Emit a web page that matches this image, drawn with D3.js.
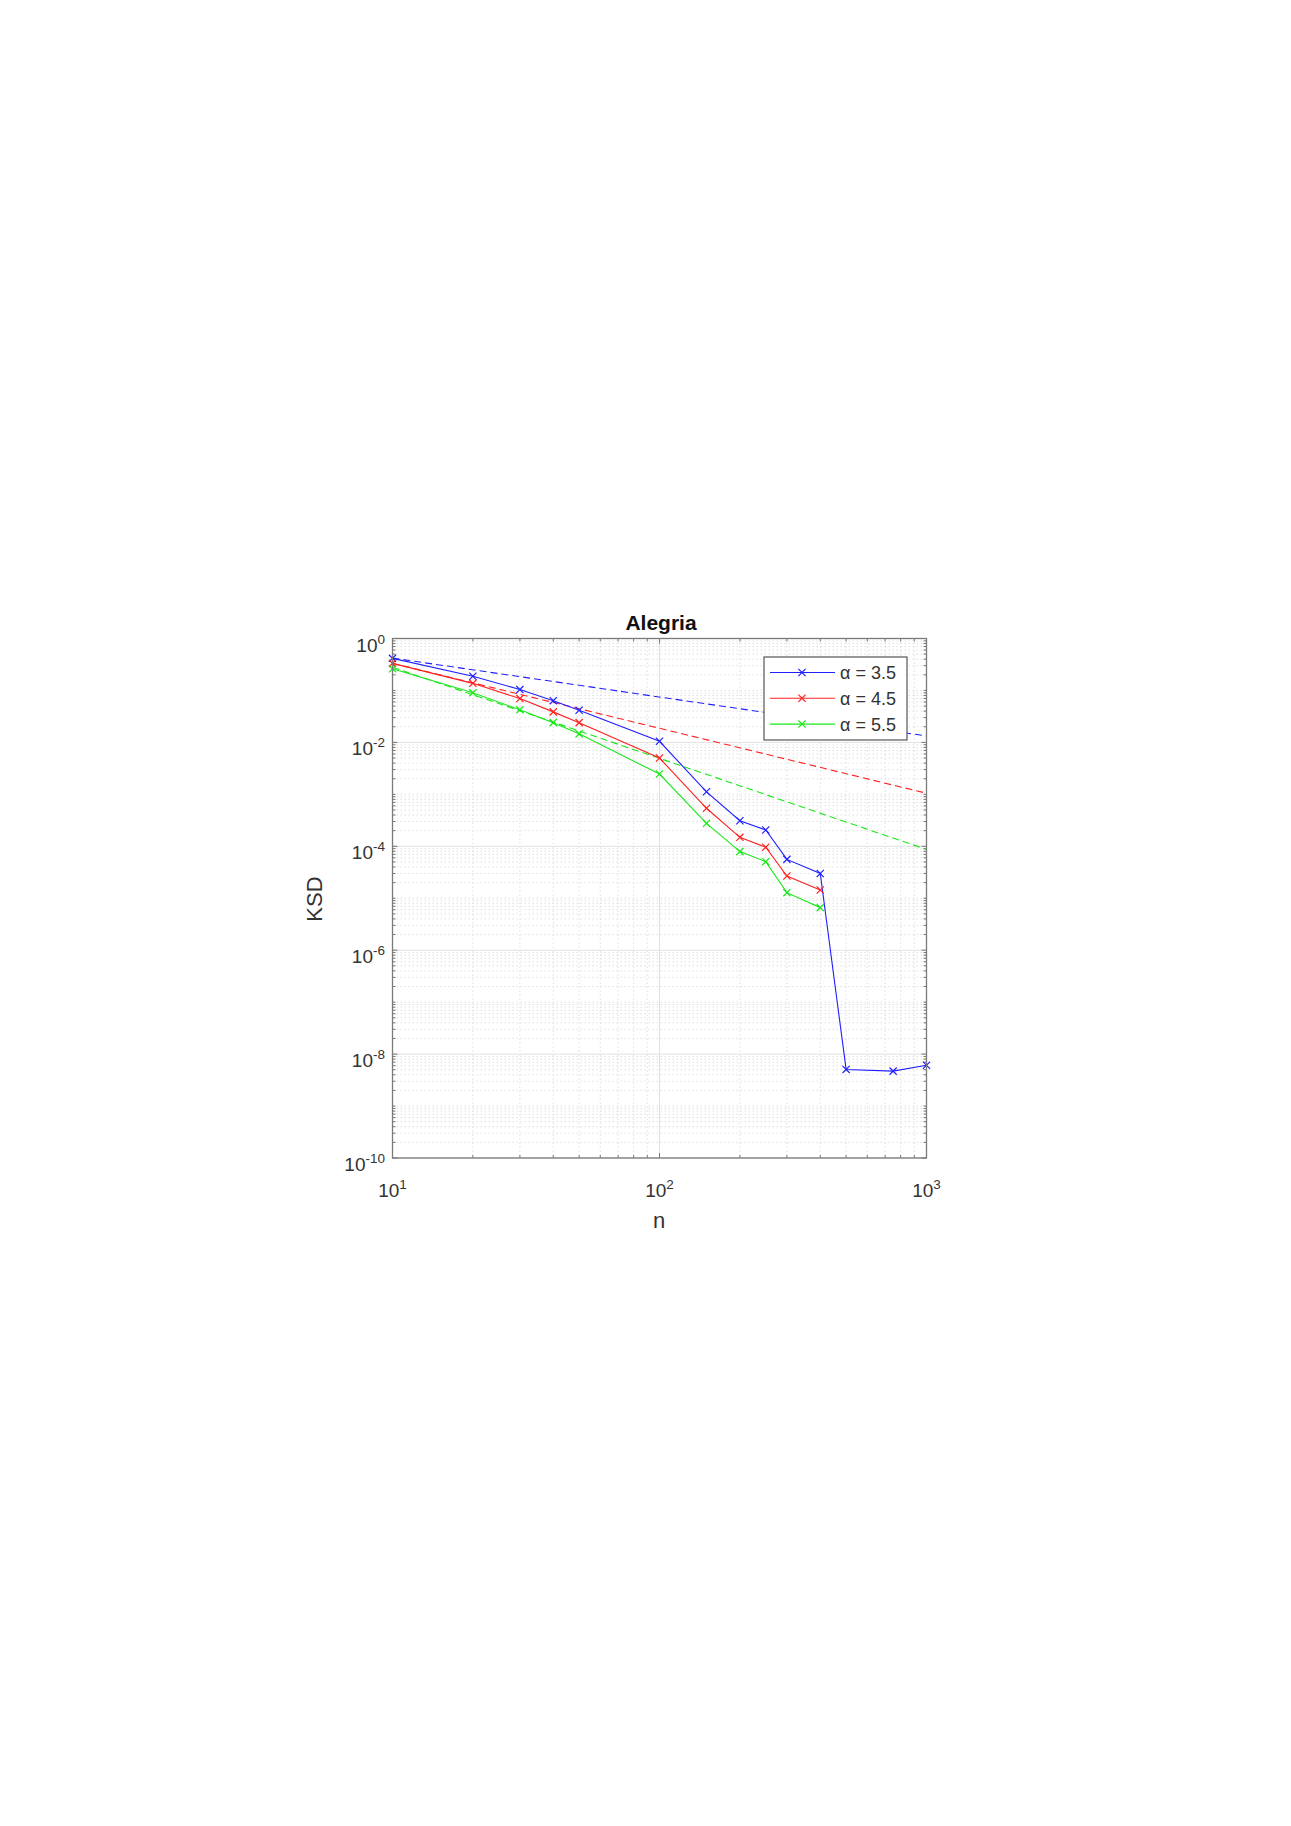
<!DOCTYPE html>
<html>
<head>
<meta charset="utf-8">
<script src="https://cdn.jsdelivr.net/npm/d3@7"></script>
<style>
  body { margin: 0; background: #fff; }
  text { font-family: "Liberation Sans", Arial, sans-serif; fill: #333; }
</style>
</head>
<body>
<svg width="1291" height="1826"></svg>
<script>
// values
const nValues = [10, 20, 30, 40, 50, 100, 150, 200, 250, 300, 400, 500, 750, 1000];
const ksdA35 = [0.415, 0.188, 0.104, 0.0635, 0.0416, 0.0105, 1.12e-3, 3.1e-4, 2.06e-4, 5.6e-5, 3.0e-5, 5.07e-9, 4.7e-9, 6.1e-9];
const ksdA45 = [0.332, 0.137, 0.0697, 0.0387, 0.024, 5.0e-3, 5.4e-4, 1.49e-4, 9.6e-5, 2.68e-5, 1.44e-5];
const ksdA55 = [0.261, 0.09, 0.0424, 0.024, 0.0146, 2.46e-3, 2.77e-4, 7.9e-5, 5.06e-5, 1.28e-5, 6.6e-6];
// dashed reference rates, end points only
const refN = [10, 1000];
const refA35 = [0.42, 0.0133];
const refA45 = [0.333, 1.05e-3];
const refA55 = [0.279, 8.7e-5];
const legendLabels = ["\u03b1 = 3.5", "\u03b1 = 4.5", "\u03b1 = 5.5"];
const xTickExp = [1, 2, 3];
const yTickExp = [0, -2, -4, -6, -8, -10];

const svg = d3.select('svg');
const g = svg.append('g');

const plotL = 392.5, plotR = 926.5, plotT = 638.5, plotB = 1158;
const x = d3.scaleLog().domain([10, 1000]).range([plotL, plotR]);
const y = d3.scaleLog().domain([1e-10, 1]).range([plotB, plotT]);

const xMajor = xTickExp.map(e => Math.pow(10, e));
const yMajor = yTickExp.map(e => Math.pow(10, e));
const isMajor = (v, list) => list.some(m => Math.abs(Math.log10(v) - Math.log10(m)) < 1e-6);
const xMinor = x.ticks().filter(v => !isMajor(v, xMajor));
const yMinor = y.ticks(20).filter(v => !isMajor(v, yMajor));

// minor grid
g.selectAll('line.xminor').data(xMinor).enter().append('line')
  .attr('x1', d => x(d)).attr('x2', d => x(d)).attr('y1', plotT).attr('y2', plotB)
  .attr('stroke', '#d8d8d8').attr('stroke-width', 0.8).attr('stroke-dasharray', '1.5,2.5');
g.selectAll('line.yminor').data(yMinor).enter().append('line')
  .attr('y1', d => y(d)).attr('y2', d => y(d)).attr('x1', plotL).attr('x2', plotR)
  .attr('stroke', '#d8d8d8').attr('stroke-width', 0.8).attr('stroke-dasharray', '1.5,2.5');
// major grid
g.selectAll('line.xmajor').data(xMajor).enter().append('line')
  .attr('x1', d => x(d)).attr('x2', d => x(d)).attr('y1', plotT).attr('y2', plotB)
  .attr('stroke', '#e0e0e0').attr('stroke-width', 1);
g.selectAll('line.ymajor').data(yMajor).enter().append('line')
  .attr('y1', d => y(d)).attr('y2', d => y(d)).attr('x1', plotL).attr('x2', plotR)
  .attr('stroke', '#e0e0e0').attr('stroke-width', 1);

// ticks on all four sides, pointing in
const tickCol = '#777';
[[xMajor, 5], [xMinor, 3]].forEach(([vals, len]) => {
  vals.forEach(v => {
    g.append('line').attr('x1', x(v)).attr('x2', x(v)).attr('y1', plotB).attr('y2', plotB - len).attr('stroke', tickCol);
    g.append('line').attr('x1', x(v)).attr('x2', x(v)).attr('y1', plotT).attr('y2', plotT + len).attr('stroke', tickCol);
  });
});
[[yMajor, 5], [yMinor, 3]].forEach(([vals, len]) => {
  vals.forEach(v => {
    g.append('line').attr('y1', y(v)).attr('y2', y(v)).attr('x1', plotL).attr('x2', plotL + len).attr('stroke', tickCol);
    g.append('line').attr('y1', y(v)).attr('y2', y(v)).attr('x1', plotR).attr('x2', plotR - len).attr('stroke', tickCol);
  });
});

// dashed reference lines
const lineGen = d3.line().x(d => x(d[0])).y(d => y(d[1]));
const series = [
  {vals: ksdA35, ref: refA35, color: '#1f1fff'},
  {vals: ksdA45, ref: refA45, color: '#ff2020'},
  {vals: ksdA55, ref: refA55, color: '#18e818'}
];
series.forEach(s => {
  g.append('path')
    .attr('d', lineGen(refN.map((n, i) => [n, s.ref[i]])))
    .attr('fill', 'none').attr('stroke', s.color).attr('stroke-width', 1.1)
    .attr('stroke-dasharray', '7,4');
});

// data lines with x markers
const xMark = (sel, cx, cy, col) => {
  const r = 3.6;
  sel.append('path')
    .attr('d', `M${cx - r},${cy - r}L${cx + r},${cy + r}M${cx - r},${cy + r}L${cx + r},${cy - r}`)
    .attr('stroke', col).attr('stroke-width', 1.2).attr('fill', 'none');
};
series.forEach(s => {
  const pts = s.vals.map((v, i) => [nValues[i], v]);
  g.append('path')
    .attr('d', lineGen(pts))
    .attr('fill', 'none').attr('stroke', s.color).attr('stroke-width', 1.1);
  pts.forEach(p => xMark(g, x(p[0]), y(p[1]), s.color));
});

// axes box
g.append('rect')
  .attr('x', plotL).attr('y', plotT).attr('width', plotR - plotL).attr('height', plotB - plotT)
  .attr('fill', 'none').attr('stroke', '#7a7a7a').attr('stroke-width', 1.3);

// tick labels
xTickExp.forEach(e => {
  const t = g.append('text').attr('x', x(Math.pow(10, e))).attr('y', 1197)
    .attr('text-anchor', 'middle').style('font-size', '19px');
  t.append('tspan').text('10');
  t.append('tspan').attr('dy', -8).style('font-size', '13.5px').text(e);
});
yTickExp.forEach(e => {
  const t = g.append('text').attr('x', 385).attr('y', y(Math.pow(10, e)) + 13)
    .attr('text-anchor', 'end').style('font-size', '19px');
  t.append('tspan').text('10');
  t.append('tspan').attr('dy', -8).style('font-size', '13.5px').text(e);
});

// title and axis labels
g.append('text').attr('x', 661).attr('y', 630).attr('text-anchor', 'middle')
  .style('font-size', '21px').style('font-weight', 'bold').style('fill', '#111').text('Alegria');
g.append('text').attr('x', 659).attr('y', 1228).attr('text-anchor', 'middle')
  .style('font-size', '22px').text('n');
g.append('text').attr('transform', 'translate(322,899) rotate(-90)').attr('text-anchor', 'middle')
  .style('font-size', '22px').text('KSD');

// legend
const lg = g.append('g');
lg.append('rect').attr('x', 764).attr('y', 657).attr('width', 143).attr('height', 83)
  .attr('fill', '#fff').attr('stroke', '#555').attr('stroke-width', 1.2);
legendLabels.forEach((lab, i) => {
  const ly = 672.5 + 25.8 * i;
  const col = series[i].color;
  lg.append('line').attr('x1', 770).attr('x2', 835).attr('y1', ly).attr('y2', ly)
    .attr('stroke', col).attr('stroke-width', 1.1);
  xMark(lg, 802, ly, col);
  lg.append('text').attr('x', 840).attr('y', ly + 6.5).style('font-size', '18px').text(lab);
});
</script>
</body>
</html>
